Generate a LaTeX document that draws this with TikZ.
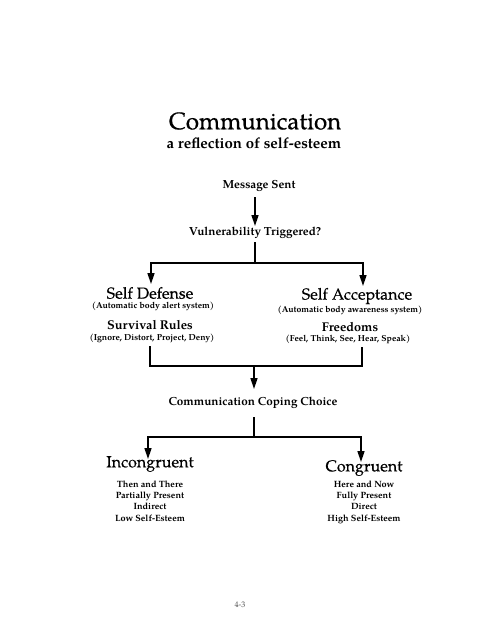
\documentclass[tikz,border=0pt]{standalone}
\usepackage{fontspec}
\setmainfont{TeX Gyre Pagella}
\newfontfamily\heavy{TeX Gyre Pagella}[FakeBold=0.4]
\usetikzlibrary{arrows.meta}
\tikzset{
  txt/.style={inner sep=0pt, align=center},
  title/.style={txt, font=\heavy\fontsize{24}{26}\selectfont},
  subtitle/.style={txt, font=\fontsize{15}{17}\selectfont\bfseries},
  label/.style={txt, font=\fontsize{11.7}{13}\selectfont\bfseries},
  head/.style={txt, font=\heavy\fontsize{16}{18}\selectfont},
  subhead/.style={txt, font=\fontsize{12.7}{14}\selectfont\bfseries},
  note/.style={txt, font=\fontsize{8.7}{10}\selectfont\bfseries},
  list/.style={txt, font=\fontsize{9.1}{11.3}\selectfont\bfseries},
  conn/.style={line width=1.5pt, black},
  arr/.style={conn, -{Triangle[length=11pt,width=7pt]}}
}
\begin{document}
\begin{tikzpicture}[x=1pt,y=-1pt]
\useasboundingbox[fill=white] (0,0) rectangle (500,637);
% texts
\node[title] (ttl) at (255,121) {Communication};
\node[subtitle] (sub) at (254,143) {a reflection of self-esteem};
\node[label] (msg) at (259,186) {Message Sent};
\node[label] (vul) at (255,233) {Vulnerability Triggered?};
\node[head] (sd) at (150,293) {Self Defense};
\node[note] (sdn) at (153,306) {(Automatic body alert system)};
\node[subhead] (sr) at (150,325) {Survival Rules};
\node[note] (srn) at (152,338) {(Ignore, Distort, Project, Deny)};
\node[head] (sa) at (357,296) {Self Acceptance};
\node[note] (san) at (350,310) {(Automatic body awareness system)};
\node[subhead] (fr) at (350,327) {Freedoms};
\node[note] (frn) at (348,339) {(Feel, Think, See, Hear, Speak)};
\node[label] (ccc) at (253,403) {Communication Coping Choice};
\node[head] (inc) at (150,464) {Incongruent};
\node[list] (incl) at (150,501) {Then and There\\Partially Present\\Indirect\\Low Self-Esteem};
\node[head] (con) at (364,468) {Congruent};
\node[list] (conl) at (364,502) {Here and Now\\Fully Present\\Direct\\High Self-Esteem};
\node[txt, font=\fontsize{8}{9}\selectfont, text=black!70] (pg) at (240,605) {4-3};
% junction coordinates
\coordinate (m1) at (255,197);
\coordinate (m2) at (255,226);
\coordinate (v1) at (255,242);
\coordinate (j1) at (255,263);
\coordinate (sdt) at (151,284);
\coordinate (sat) at (363,286);
\coordinate (b1) at (150,346);
\coordinate (b2) at (362,347);
\coordinate (j2) at (254,366);
\coordinate (c1) at (254,389);
\coordinate (c2) at (254,417);
\coordinate (j3) at (254,437);
\coordinate (inct) at (148,459);
\coordinate (cont) at (361,462);
% connectors
\draw[arr] (m1) -- (m2);
\draw[conn] (v1) -- (j1);
\draw[arr] (j1) -| (sdt);
\draw[arr] (j1) -| (sat);
\draw[conn] (b1) |- (j2);
\draw[conn] (b2) |- (j2);
\draw[arr] (j2) -- (c1);
\draw[conn] (c2) -- (j3);
\draw[arr] (j3) -| (inct);
\draw[arr] (j3) -| (cont);
\end{tikzpicture}
\end{document}
